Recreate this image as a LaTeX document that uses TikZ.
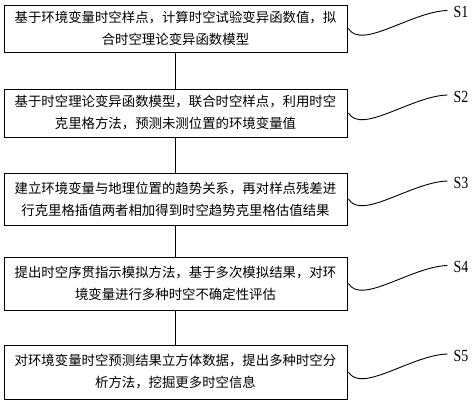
\documentclass[tikz,border=0pt]{standalone}
\usepackage{fontspec}
\setmainfont{Liberation Serif}
\newfontfamily\cjk{Noto Sans CJK SC}
\tikzset{
  stepbox/.style={draw, line width=0.9pt, minimum width=343pt, text width=330pt, align=center, inner sep=0pt, font=\cjk\fontsize{13.4}{22}\selectfont},
  lead/.style={line width=0.9pt},
  link/.style={line width=0.9pt},
  slabel/.style={font=\fontsize{17}{17}\selectfont, inner sep=0pt, xscale=0.82}
}
\begin{document}
\begin{tikzpicture}[x=1pt,y=-1pt]
\useasboundingbox (0,0) rectangle (474,403);
\node[stepbox, minimum height=47pt] (b1) at (175.5,28.5) {基于环境变量时空样点，计算时空试验变异函数值，拟\\合时空理论变异函数模型};
\node[stepbox, minimum height=48pt] (b2) at (175.5,113) {基于时空理论变异函数模型，联合时空样点，利用时空\\克里格方法，预测未测位置的环境变量值};
\node[stepbox, minimum height=52pt] (b3) at (175.5,199) {建立环境变量与地理位置的趋势关系，再对样点残差进\\行克里格插值两者相加得到时空趋势克里格估值结果};
\node[stepbox, minimum height=53pt] (b4) at (175.5,283.5) {提出时空序贯指示模拟方法，基于多次模拟结果，对环\\境变量进行多种时空不确定性评估};
\node[stepbox, minimum height=54pt] (b5) at (175.5,372) {对环境变量时空预测结果立方体数据，提出多种时空分\\析方法，挖掘更多时空信息};
\draw[link] (b1.south) -- (b2.north);
\draw[link] (b2.south) -- (b3.north);
\draw[link] (b3.south) -- (b4.north);
\draw[link] (b4.south) -- (b5.north);
\foreach \i/\c in {1/28.5,2/113,3/199,4/283.5,5/372}{
  \node[slabel] (s\i) at (461,\c-16.5) {S\i};
  \draw[lead] ([xshift=1pt]b\i.east) .. controls +(13,22) and +(-36,1) .. ([xshift=-6pt,yshift=1.5pt]s\i.west);
}
\end{tikzpicture}
\end{document}
